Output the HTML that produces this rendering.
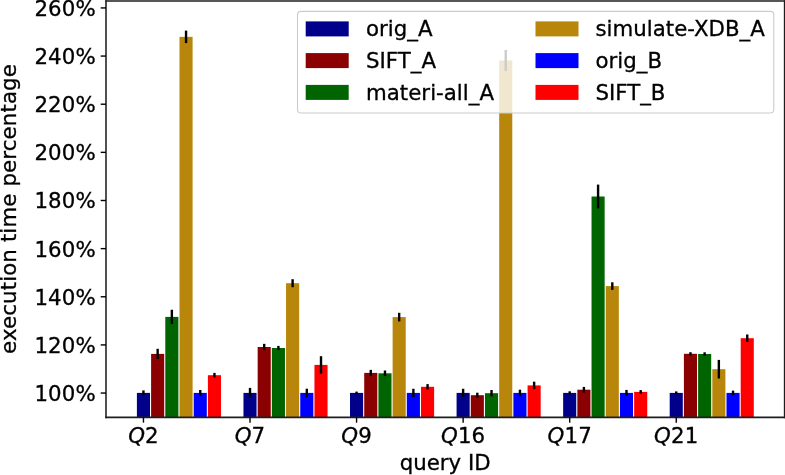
<!DOCTYPE html>
<html lang="en"><head><meta charset="utf-8"><title>execution time percentage by query ID</title>
<style>html,body{margin:0;padding:0;background:#fff}body{width:785px;height:475px;overflow:hidden}svg{display:block}</style>
</head><body>
<svg width="785" height="475" viewBox="0 0 785 475" font-family="'DejaVu Sans', 'Liberation Sans', sans-serif" font-size="20.7px" fill="#000" stroke="#000" stroke-width="0.3" letter-spacing="0.12">
<rect width="785" height="475" fill="#fff" stroke="none"/>
<g stroke="none">
<rect x="136.90" y="392.90" width="13.1" height="24.45" fill="#00008b"/>
<rect x="151.10" y="353.90" width="13.1" height="63.45" fill="#8b0000"/>
<rect x="165.30" y="316.90" width="13.1" height="100.45" fill="#006400"/>
<rect x="179.50" y="36.85" width="13.1" height="380.50" fill="#b8860b"/>
<rect x="193.70" y="392.90" width="13.1" height="24.45" fill="#0000ff"/>
<rect x="207.90" y="375.20" width="13.1" height="42.15" fill="#ff0000"/>
<rect x="243.46" y="392.90" width="13.1" height="24.45" fill="#00008b"/>
<rect x="257.66" y="347.00" width="13.1" height="70.35" fill="#8b0000"/>
<rect x="271.86" y="348.00" width="13.1" height="69.35" fill="#006400"/>
<rect x="286.06" y="283.20" width="13.1" height="134.15" fill="#b8860b"/>
<rect x="300.26" y="392.90" width="13.1" height="24.45" fill="#0000ff"/>
<rect x="314.46" y="364.90" width="13.1" height="52.45" fill="#ff0000"/>
<rect x="350.02" y="392.90" width="13.1" height="24.45" fill="#00008b"/>
<rect x="364.22" y="372.90" width="13.1" height="44.45" fill="#8b0000"/>
<rect x="378.42" y="373.30" width="13.1" height="44.05" fill="#006400"/>
<rect x="392.62" y="317.10" width="13.1" height="100.25" fill="#b8860b"/>
<rect x="406.82" y="392.90" width="13.1" height="24.45" fill="#0000ff"/>
<rect x="421.02" y="386.80" width="13.1" height="30.55" fill="#ff0000"/>
<rect x="456.58" y="392.90" width="13.1" height="24.45" fill="#00008b"/>
<rect x="470.78" y="395.20" width="13.1" height="22.15" fill="#8b0000"/>
<rect x="484.98" y="393.20" width="13.1" height="24.15" fill="#006400"/>
<rect x="499.18" y="60.50" width="13.1" height="356.85" fill="#b8860b"/>
<rect x="513.38" y="392.90" width="13.1" height="24.45" fill="#0000ff"/>
<rect x="527.58" y="385.40" width="13.1" height="31.95" fill="#ff0000"/>
<rect x="563.14" y="392.90" width="13.1" height="24.45" fill="#00008b"/>
<rect x="577.34" y="389.70" width="13.1" height="27.65" fill="#8b0000"/>
<rect x="591.54" y="196.50" width="13.1" height="220.85" fill="#006400"/>
<rect x="605.74" y="286.10" width="13.1" height="131.25" fill="#b8860b"/>
<rect x="619.94" y="392.90" width="13.1" height="24.45" fill="#0000ff"/>
<rect x="634.14" y="391.90" width="13.1" height="25.45" fill="#ff0000"/>
<rect x="669.70" y="392.90" width="13.1" height="24.45" fill="#00008b"/>
<rect x="683.90" y="353.80" width="13.1" height="63.55" fill="#8b0000"/>
<rect x="698.10" y="354.00" width="13.1" height="63.35" fill="#006400"/>
<rect x="712.30" y="369.20" width="13.1" height="48.15" fill="#b8860b"/>
<rect x="726.50" y="392.90" width="13.1" height="24.45" fill="#0000ff"/>
<rect x="740.70" y="338.20" width="13.1" height="79.15" fill="#ff0000"/>
</g>
<g stroke="#000" stroke-width="2.4" fill="none">
<path d="M143.45 390.40V395.40"/>
<path d="M157.65 348.80V359.00"/>
<path d="M171.85 309.75V324.05"/>
<path d="M186.05 30.60V43.10"/>
<path d="M200.25 390.00V395.80"/>
<path d="M214.45 372.90V377.50"/>
<path d="M250.01 387.90V397.90"/>
<path d="M264.21 343.85V350.15"/>
<path d="M278.41 345.90V350.10"/>
<path d="M292.61 279.20V287.20"/>
<path d="M306.81 388.70V397.10"/>
<path d="M321.01 356.20V373.60"/>
<path d="M356.57 391.60V394.20"/>
<path d="M370.77 369.90V375.90"/>
<path d="M384.97 370.50V376.10"/>
<path d="M399.17 312.80V321.40"/>
<path d="M413.37 388.75V397.05"/>
<path d="M427.57 384.10V389.50"/>
<path d="M463.13 388.75V397.05"/>
<path d="M477.33 392.70V397.70"/>
<path d="M491.53 390.00V396.40"/>
<path d="M505.73 49.90V71.10"/>
<path d="M519.93 389.70V396.10"/>
<path d="M534.13 381.70V389.10"/>
<path d="M569.69 391.30V394.50"/>
<path d="M583.89 386.90V392.50"/>
<path d="M598.09 184.60V208.40"/>
<path d="M612.29 282.30V289.90"/>
<path d="M626.49 389.90V395.90"/>
<path d="M640.69 390.10V393.70"/>
<path d="M676.25 391.40V394.40"/>
<path d="M690.45 352.20V355.40"/>
<path d="M704.65 352.30V355.70"/>
<path d="M718.85 359.90V378.50"/>
<path d="M733.05 390.60V395.20"/>
<path d="M747.25 334.50V341.90"/>
</g>
<rect x="297.5" y="11.4" width="476.29999999999995" height="101.6" rx="3.5" ry="3.5" fill="#fff" fill-opacity="0.8" stroke="#ccc" stroke-width="1.1"/>
<rect x="305.7" y="21.4" width="43.0" height="15.0" fill="#00008b" stroke="none"/>
<text transform="translate(366.0 36.25) scale(1.03 1)" letter-spacing="0.02">orig_A</text>
<rect x="305.7" y="53.1" width="43.0" height="15.0" fill="#8b0000" stroke="none"/>
<text transform="translate(366.0 67.95) scale(1.03 1)" letter-spacing="0.02">SIFT_A</text>
<rect x="305.7" y="84.9" width="43.0" height="15.0" fill="#006400" stroke="none"/>
<text transform="translate(366.0 99.75) scale(1.03 1)" letter-spacing="0.02">materi-all_A</text>
<rect x="535.5" y="21.4" width="43.0" height="15.0" fill="#b8860b" stroke="none"/>
<text transform="translate(595.4 36.25) scale(1.03 1)" letter-spacing="0.02">simulate-XDB_A</text>
<rect x="535.5" y="53.1" width="43.0" height="15.0" fill="#0000ff" stroke="none"/>
<text transform="translate(595.4 67.95) scale(1.03 1)" letter-spacing="0.02">orig_B</text>
<rect x="535.5" y="84.9" width="43.0" height="15.0" fill="#ff0000" stroke="none"/>
<text transform="translate(595.4 99.75) scale(1.03 1)" letter-spacing="0.02">SIFT_B</text>
<g stroke="#1e1e1e" stroke-width="1.55" fill="none" stroke-linecap="square">
<path d="M106.0 417.35V0.9"/><path d="M784.6 417.35V0.9"/><path d="M106.0 417.35H784.6"/><path d="M106.0 0.9H784.6"/>
</g>
<g stroke="#000" stroke-width="1.4" fill="none">
<path d="M100.70 393.05H106.0"/>
<path d="M100.70 344.91H106.0"/>
<path d="M100.70 296.77H106.0"/>
<path d="M100.70 248.63H106.0"/>
<path d="M100.70 200.49H106.0"/>
<path d="M100.70 152.35H106.0"/>
<path d="M100.70 104.21H106.0"/>
<path d="M100.70 56.07H106.0"/>
<path d="M100.70 7.93H106.0"/>
<path d="M143.45 417.35V422.65"/>
<path d="M250.01 417.35V422.65"/>
<path d="M356.57 417.35V422.65"/>
<path d="M463.13 417.35V422.65"/>
<path d="M569.69 417.35V422.65"/>
<path d="M676.25 417.35V422.65"/>
</g>
<text transform="translate(95.80 401.05) scale(1.03 1)" text-anchor="end">100%</text>
<text transform="translate(95.80 352.91) scale(1.03 1)" text-anchor="end">120%</text>
<text transform="translate(95.80 304.77) scale(1.03 1)" text-anchor="end">140%</text>
<text transform="translate(95.80 256.63) scale(1.03 1)" text-anchor="end">160%</text>
<text transform="translate(95.80 208.49) scale(1.03 1)" text-anchor="end">180%</text>
<text transform="translate(95.80 160.35) scale(1.03 1)" text-anchor="end">200%</text>
<text transform="translate(95.80 112.21) scale(1.03 1)" text-anchor="end">220%</text>
<text transform="translate(95.80 64.07) scale(1.03 1)" text-anchor="end">240%</text>
<text transform="translate(95.80 15.93) scale(1.03 1)" text-anchor="end">260%</text>
<text transform="translate(143.45 442.6) scale(1.03 1)" text-anchor="middle"><tspan font-style="italic">Q</tspan>2</text>
<text transform="translate(250.01 442.6) scale(1.03 1)" text-anchor="middle"><tspan font-style="italic">Q</tspan>7</text>
<text transform="translate(356.57 442.6) scale(1.03 1)" text-anchor="middle"><tspan font-style="italic">Q</tspan>9</text>
<text transform="translate(463.13 442.6) scale(1.03 1)" text-anchor="middle"><tspan font-style="italic">Q</tspan>16</text>
<text transform="translate(569.69 442.6) scale(1.03 1)" text-anchor="middle"><tspan font-style="italic">Q</tspan>17</text>
<text transform="translate(676.25 442.6) scale(1.03 1)" text-anchor="middle"><tspan font-style="italic">Q</tspan>21</text>
<text transform="translate(445.2 470.3) scale(1.03 1)" text-anchor="middle" letter-spacing="0">query ID</text>
<text transform="translate(15.6 209) rotate(-90) scale(1.03 1)" text-anchor="middle">execution time percentage</text>
</svg>
</body></html>
